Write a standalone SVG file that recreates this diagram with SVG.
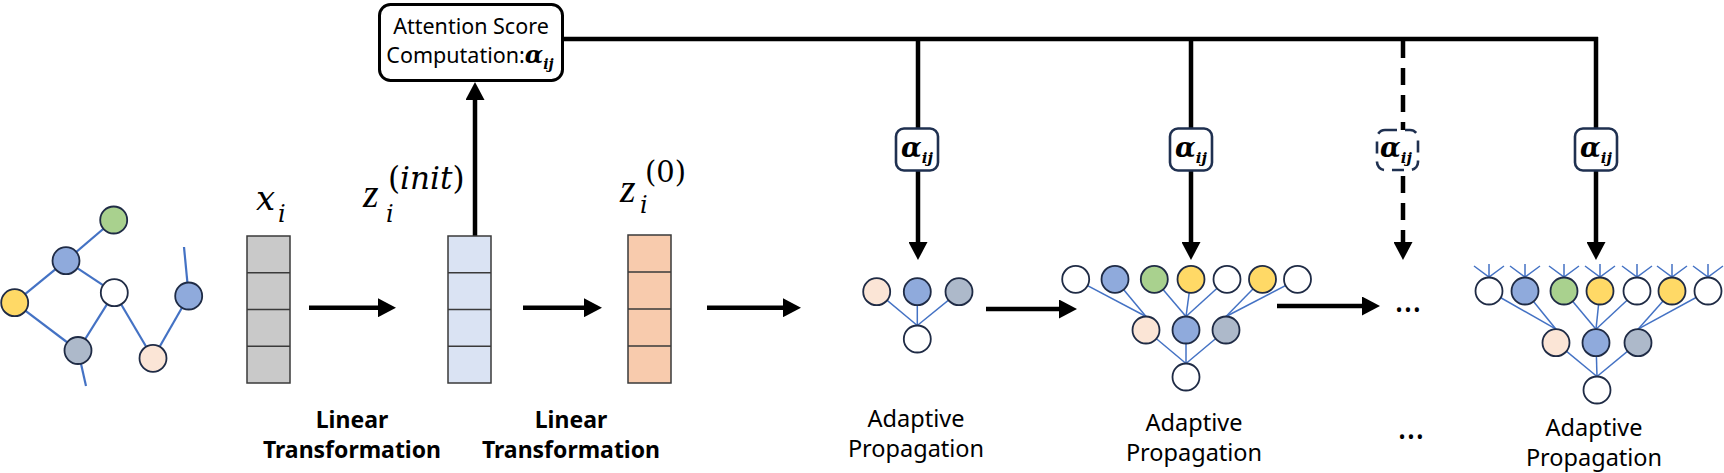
<svg xmlns="http://www.w3.org/2000/svg" width="1724" height="473" viewBox="0 0 1724 473">
<defs>
<style>
.nd{stroke:#1f2b45;stroke-width:1.8}
.w{fill:#ffffff}.b{fill:#8faadc}.g{fill:#a9d18e}.y{fill:#ffd966}.gr{fill:#adb9ca}.p{fill:#fbe5d6}
.e{stroke:#4472c4;stroke-width:1.5;fill:none}
.ge{stroke:#4472c4;stroke-width:2.2;fill:none}
.conn{stroke:#000;stroke-width:4.5;fill:none}
.cell{stroke:#3a3a3a;stroke-width:1.5}
.lbl{font-family:"Noto Sans","Open Sans","DejaVu Sans",sans-serif;font-size:23.5px;fill:#000;text-anchor:middle}
.lblb{font-family:"Noto Sans","Open Sans","DejaVu Sans",sans-serif;font-size:23px;font-weight:bold;fill:#000;text-anchor:middle}
.m{font-family:"DejaVu Serif","Liberation Serif",serif;font-style:italic;fill:#000}
.mz{font-family:"Liberation Serif","DejaVu Serif",serif;font-style:italic;fill:#000}
.mu{font-family:"DejaVu Serif","Liberation Serif",serif;fill:#000}
.ab{fill:#fff;stroke:#1f3050;stroke-width:2.6}
.al{font-family:"DejaVu Serif","Liberation Serif",serif;font-style:italic;font-weight:bold;fill:#000;text-anchor:middle}
.dots{font-family:"Noto Sans","DejaVu Sans",sans-serif;font-size:34px;fill:#000;text-anchor:middle}
.bt{font-family:"Noto Sans","Open Sans",sans-serif;font-size:21.5px;fill:#000;text-anchor:middle}
</style>
<marker id="ah" markerUnits="userSpaceOnUse" markerWidth="18" markerHeight="19" viewBox="0 0 18 19" refX="0" refY="9.5" orient="auto">
<path d="M0,0 L18,9.5 L0,19 z" fill="#000"/>
</marker>
</defs>
<rect width="1724" height="473" fill="#fff"/>

<g id="connectors">
<line class="conn" x1="475" y1="236" x2="475" y2="100" marker-end="url(#ah)"/>
<polyline class="conn" points="563,39 1598,39"/>
<line class="conn" x1="918" y1="37" x2="918" y2="242" marker-end="url(#ah)"/>
<line class="conn" x1="1191" y1="37" x2="1191" y2="242" marker-end="url(#ah)"/>
<line class="conn" x1="1596" y1="37" x2="1596" y2="242" marker-end="url(#ah)"/>
<line class="conn" x1="1403" y1="41" x2="1403" y2="242" stroke-dasharray="17 10" marker-end="url(#ah)"/>
<line class="conn" x1="309" y1="307.7" x2="378" y2="307.7" marker-end="url(#ah)"/>
<line class="conn" x1="523" y1="307.7" x2="584" y2="307.7" marker-end="url(#ah)"/>
<line class="conn" x1="707" y1="307.7" x2="783" y2="307.7" marker-end="url(#ah)"/>
<line class="conn" x1="986" y1="309" x2="1059" y2="309" marker-end="url(#ah)"/>
<line class="conn" x1="1277" y1="306" x2="1362" y2="306" marker-end="url(#ah)"/>
</g>

<g id="attention-box">
<rect x="379.5" y="4.5" width="183" height="76" rx="11" fill="#fff" stroke="#000" stroke-width="3"/>
<text class="bt" x="471" y="34">Attention Score</text>
<text class="bt" x="470" y="63">Computation:<tspan class="m" font-weight="bold" font-size="24">α</tspan><tspan class="m" font-weight="bold" font-size="14" dy="6">ij</tspan></text>
</g>

<g id="alpha-1">
<rect class="ab" x="896" y="128.5" width="42" height="42" rx="8"/>
<text class="al" x="917" y="157"><tspan font-size="27">α</tspan><tspan font-size="15" dy="6">ij</tspan></text>
</g>
<g id="alpha-2">
<rect class="ab" x="1170" y="128.5" width="42" height="42" rx="8"/>
<text class="al" x="1191" y="157"><tspan font-size="27">α</tspan><tspan font-size="15" dy="6">ij</tspan></text>
</g>
<g id="alpha-dashed">
<rect class="ab" x="1377" y="130" width="41" height="40" rx="8" stroke-dasharray="12 8"/>
<text class="al" x="1396" y="157"><tspan font-size="27">α</tspan><tspan font-size="15" dy="6">ij</tspan></text>
</g>
<g id="alpha-3">
<rect class="ab" x="1575" y="128.5" width="42" height="42" rx="8"/>
<text class="al" x="1596" y="157"><tspan font-size="27">α</tspan><tspan font-size="15" dy="6">ij</tspan></text>
</g>

<g id="input-graph">
<line class="ge" x1="113.7" y1="220" x2="66" y2="260.7"/>
<line class="ge" x1="66" y1="260.7" x2="14.7" y2="302.7"/>
<line class="ge" x1="66" y1="260.7" x2="114.3" y2="292.7"/>
<line class="ge" x1="14.7" y1="302.7" x2="78" y2="350.5"/>
<line class="ge" x1="114.3" y1="292.7" x2="78" y2="350.5"/>
<line class="ge" x1="114.3" y1="292.7" x2="153" y2="358.3"/>
<line class="ge" x1="153" y1="358.3" x2="188.7" y2="296"/>
<line class="ge" x1="188.7" y1="296" x2="184" y2="247"/>
<line class="ge" x1="78" y1="350.5" x2="86" y2="386"/>
<circle class="nd g" cx="113.7" cy="220" r="13.5"/>
<circle class="nd b" cx="66" cy="260.7" r="13.5"/>
<circle class="nd y" cx="14.7" cy="302.7" r="13.5"/>
<circle class="nd w" cx="114.3" cy="292.7" r="13.5"/>
<circle class="nd b" cx="188.7" cy="296" r="13.5"/>
<circle class="nd gr" cx="78" cy="350.5" r="13.5"/>
<circle class="nd p" cx="153" cy="358.3" r="13.5"/>
</g>

<g id="vector-x">
<rect class="cell" x="247" y="236" width="43" height="147" fill="#c9c9c9"/>
<line class="cell" x1="247" y1="272.75" x2="290" y2="272.75"/>
<line class="cell" x1="247" y1="309.5" x2="290" y2="309.5"/>
<line class="cell" x1="247" y1="346.25" x2="290" y2="346.25"/>
<text class="m" x="256" y="210" font-size="34">x</text>
<text class="m" x="278" y="222" font-size="24">i</text>
</g>

<g id="vector-zinit">
<rect class="cell" x="448" y="236" width="43" height="147" fill="#dae3f3"/>
<line class="cell" x1="448" y1="272.75" x2="491" y2="272.75"/>
<line class="cell" x1="448" y1="309.5" x2="491" y2="309.5"/>
<line class="cell" x1="448" y1="346.25" x2="491" y2="346.25"/>
<text class="mz" x="363" y="206.7" font-size="40">z</text>
<text class="m" x="386" y="222" font-size="24">i</text>
<text x="388" y="188.5" font-size="31"><tspan class="mu">(</tspan><tspan class="m">init</tspan><tspan class="mu">)</tspan></text>
</g>

<g id="vector-z0">
<rect class="cell" x="628" y="235" width="43" height="148" fill="#f8cbad"/>
<line class="cell" x1="628" y1="272" x2="671" y2="272"/>
<line class="cell" x1="628" y1="309" x2="671" y2="309"/>
<line class="cell" x1="628" y1="346" x2="671" y2="346"/>
<text class="mz" x="620" y="201.7" font-size="40">z</text>
<text class="m" x="640" y="213" font-size="24">i</text>
<text class="mu" x="645" y="182" font-size="29">(0)</text>
</g>

<g id="label-linear-1">
<text class="lblb" x="352" y="428">Linear</text>
<text class="lblb" x="352" y="458">Transformation</text>
</g>
<g id="label-linear-2">
<text class="lblb" x="571" y="428">Linear</text>
<text class="lblb" x="571" y="458">Transformation</text>
</g>

<g id="tree-1">
<line class="e" x1="876.7" y1="291.7" x2="917.3" y2="325.5"/>
<line class="e" x1="917.3" y1="291.7" x2="917.3" y2="325.5"/>
<line class="e" x1="959" y1="291.7" x2="917.3" y2="325.5"/>
<circle class="nd p" cx="876.7" cy="291.7" r="13.5"/>
<circle class="nd b" cx="917.3" cy="291.7" r="13.5"/>
<circle class="nd gr" cx="959" cy="291.7" r="13.5"/>
<circle class="nd w" cx="917.3" cy="339" r="13.5"/>
<text class="lbl" x="916" y="427">Adaptive</text>
<text class="lbl" x="916" y="457">Propagation</text>
</g>

<g id="tree-2">
<line class="e" x1="1075.7" y1="279.3" x2="1146" y2="316.5"/>
<line class="e" x1="1115" y1="279.3" x2="1146" y2="316.5"/>
<line class="e" x1="1154.3" y1="279.3" x2="1186" y2="316.5"/>
<line class="e" x1="1191" y1="279.3" x2="1186" y2="316.5"/>
<line class="e" x1="1227" y1="279.3" x2="1186" y2="316.5"/>
<line class="e" x1="1262.5" y1="279.3" x2="1226" y2="316.5"/>
<line class="e" x1="1297.5" y1="279.3" x2="1226" y2="316.5"/>
<line class="e" x1="1146" y1="330" x2="1186" y2="363.5"/>
<line class="e" x1="1186" y1="330" x2="1186" y2="363.5"/>
<line class="e" x1="1226" y1="330" x2="1186" y2="363.5"/>
<circle class="nd w" cx="1075.7" cy="279.3" r="13.5"/>
<circle class="nd b" cx="1115" cy="279.3" r="13.5"/>
<circle class="nd g" cx="1154.3" cy="279.3" r="13.5"/>
<circle class="nd y" cx="1191" cy="279.3" r="13.5"/>
<circle class="nd w" cx="1227" cy="279.3" r="13.5"/>
<circle class="nd y" cx="1262.5" cy="279.3" r="13.5"/>
<circle class="nd w" cx="1297.5" cy="279.3" r="13.5"/>
<circle class="nd p" cx="1146" cy="330" r="13.5"/>
<circle class="nd b" cx="1186" cy="330" r="13.5"/>
<circle class="nd gr" cx="1226" cy="330" r="13.5"/>
<circle class="nd w" cx="1186" cy="377" r="13.5"/>
<text class="lbl" x="1194" y="431">Adaptive</text>
<text class="lbl" x="1194" y="461">Propagation</text>
</g>

<g id="ellipsis">
<text class="dots" x="1408" y="312">…</text>
<text class="dots" x="1411" y="439">…</text>
</g>

<g id="tree-3">
<g class="e">
<path d="M1474,266 L1489,277 L1504,266 M1489,264 L1489,277"/>
<path d="M1510,266 L1525,277 L1540,266 M1525,264 L1525,277"/>
<path d="M1549,266 L1564,277 L1579,266 M1564,264 L1564,277"/>
<path d="M1585,266 L1600,277 L1615,266 M1600,264 L1600,277"/>
<path d="M1622,266 L1637,277 L1652,266 M1637,264 L1637,277"/>
<path d="M1657,266 L1672,277 L1687,266 M1672,264 L1672,277"/>
<path d="M1693,266 L1708,277 L1723,266 M1708,264 L1708,277"/>
</g>
<line class="e" x1="1489" y1="291" x2="1556" y2="329.2"/>
<line class="e" x1="1525" y1="291" x2="1556" y2="329.2"/>
<line class="e" x1="1564" y1="291" x2="1596" y2="329.2"/>
<line class="e" x1="1600" y1="291" x2="1596" y2="329.2"/>
<line class="e" x1="1637" y1="291" x2="1596" y2="329.2"/>
<line class="e" x1="1672" y1="291" x2="1638" y2="329.2"/>
<line class="e" x1="1708" y1="291" x2="1638" y2="329.2"/>
<line class="e" x1="1556" y1="342.7" x2="1597" y2="376.5"/>
<line class="e" x1="1596" y1="342.7" x2="1597" y2="376.5"/>
<line class="e" x1="1638" y1="342.7" x2="1597" y2="376.5"/>
<circle class="nd w" cx="1489" cy="291" r="13.5"/>
<circle class="nd b" cx="1525" cy="291" r="13.5"/>
<circle class="nd g" cx="1564" cy="291" r="13.5"/>
<circle class="nd y" cx="1600" cy="291" r="13.5"/>
<circle class="nd w" cx="1637" cy="291" r="13.5"/>
<circle class="nd y" cx="1672" cy="291" r="13.5"/>
<circle class="nd w" cx="1708" cy="291" r="13.5"/>
<circle class="nd p" cx="1556" cy="342.7" r="13.5"/>
<circle class="nd b" cx="1596" cy="342.7" r="13.5"/>
<circle class="nd gr" cx="1638" cy="342.7" r="13.5"/>
<circle class="nd w" cx="1597" cy="390" r="13.5"/>
<text class="lbl" x="1594" y="436">Adaptive</text>
<text class="lbl" x="1594" y="466">Propagation</text>
</g>
</svg>
